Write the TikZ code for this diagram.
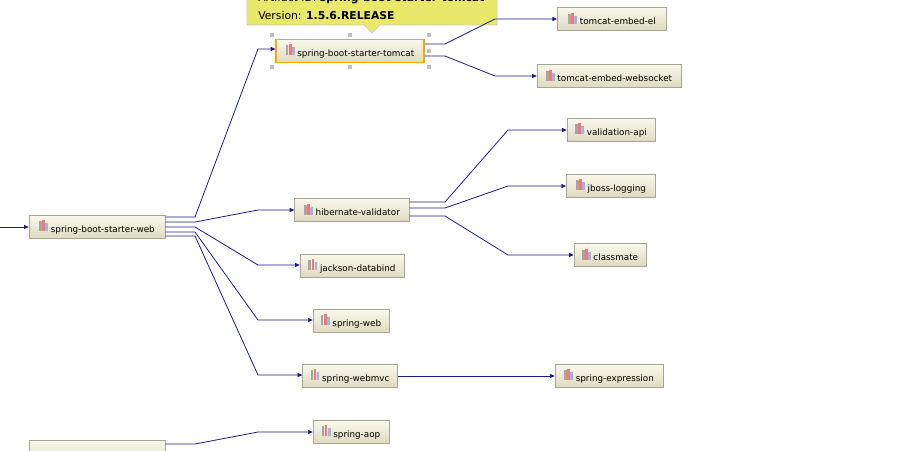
\documentclass[tikz,border=0pt]{standalone}
\usepackage{fontspec}
\setmainfont{DejaVu Sans}
\usetikzlibrary{arrows.meta,shapes.callouts}
\definecolor{edge}{HTML}{1A1A8C}
\definecolor{nbord}{HTML}{A8A690}
\definecolor{ntop}{HTML}{FAF8EC}
\definecolor{nbot}{HTML}{DEDAC0}
\definecolor{tip}{HTML}{EAE86A}
\begin{document}
\begin{tikzpicture}[x=0.75pt,y=-0.75pt,
  art/.style={draw=nbord,top color=ntop,bottom color=nbot,minimum height=17pt,inner sep=2pt,font=\fontsize{6.6}{7}\selectfont,text=black,anchor=center},
  dep/.style={draw=edge,line width=0.6pt,-{Triangle[length=3.5pt,width=3pt]}},
  hnd/.style={fill=gray!50,minimum size=2.5pt,inner sep=0pt}]
\useasboundingbox (0,0) rectangle (917,450);
\clip (0,0) rectangle (917,450);
\newcommand{\ico}{\tikz[baseline=-1pt,x=1pt,y=1pt]{\fill[gray!70](0,0) rectangle (2,7);\fill[red!55](2.3,0) rectangle (4.3,8);\fill[cyan!50!blue!40](4.6,0) rectangle (6.6,6);}\ }
% nodes
\node[art,minimum width=111pt,draw=orange!70!yellow,line width=0.9pt] (tom) at (350,51) {\ico spring-boot-starter-tomcat};
\node[art,minimum width=82pt] (el) at (612,19) {\ico tomcat-embed-el};
\node[art,minimum width=108pt] (ws) at (609,76) {\ico tomcat-embed-websocket};
\node[art,minimum width=66pt] (va) at (611,130) {\ico validation-api};
\node[art,minimum width=67pt] (jb) at (611,186) {\ico jboss-logging};
\node[art,minimum width=86pt] (hv) at (352,210) {\ico hibernate-validator};
\node[art,minimum width=54pt] (cm) at (610,255) {\ico classmate};
\node[art,minimum width=102pt] (sbw) at (97,227) {\ico spring-boot-starter-web};
\node[art,minimum width=78pt] (jd) at (352,266) {\ico jackson-databind};
\node[art,minimum width=57pt] (sw) at (351,321) {\ico spring-web};
\node[art,minimum width=71pt] (mvc) at (350,376) {\ico spring-webmvc};
\node[art,minimum width=81pt] (se) at (609,376) {\ico spring-expression};
\node[art,minimum width=57pt] (aop) at (351,432) {\ico spring-aop};
\node[art,minimum width=102pt] (bl) at (97,452) {};
% selection handles
\foreach \p in {(272,35),(350,35),(429,35),(429,51),(272,67),(350,67),(429,67)} \node[hnd] at \p {};
% tooltip
\fill[tip,draw=gray!40] (247,-5) -- (497,-5) -- (497,25) -- (380,25) -- (372,33) -- (364,25) -- (247,25) -- cycle;
\node[anchor=west,font=\fontsize{8.1}{9}\selectfont,inner sep=0pt] (t1) at (258,-1) {Artifact ID: \textbf{spring-boot-starter-tomcat}};
\node[anchor=west,font=\fontsize{8.1}{9}\selectfont,inner sep=0pt] (t2) at (258,15) {Version: \textbf{1.5.6.RELEASE}};
% edges
\coordinate (in) at (0,227);
\draw[dep] (in) -- (sbw.west);
\draw[dep] (sbw.east |- 0,217) -- (195,217) -- (258,49) -- (tom.west |- 0,49);
\draw[dep] (sbw.east |- 0,222) -- (195,222) -- (258,210) -- (hv.west);
\draw[dep] (sbw.east |- 0,227) -- (195,227) -- (258,265) -- (jd.west |- 0,265);
\draw[dep] (sbw.east |- 0,232) -- (195,232) -- (258,320) -- (sw.west |- 0,320);
\draw[dep] (sbw.east |- 0,236) -- (195,236) -- (258,375) -- (mvc.west |- 0,375);
\draw[dep] (bl.east |- 0,444) -- (195,444) -- (258,432) -- (aop.west);
\draw[dep] (tom.east |- 0,44) -- (445,44) -- (495,19) -- (el.west);
\draw[dep] (tom.east |- 0,56) -- (445,56) -- (495,76) -- (ws.west);
\draw[dep] (hv.east |- 0,202) -- (445,202) -- (508,130) -- (va.west);
\draw[dep] (hv.east |- 0,208) -- (445,208) -- (508,186) -- (jb.west);
\draw[dep] (hv.east |- 0,216) -- (445,216) -- (508,255) -- (cm.west);
\draw[dep] (mvc.east) -- (se.west);
\end{tikzpicture}
\end{document}
